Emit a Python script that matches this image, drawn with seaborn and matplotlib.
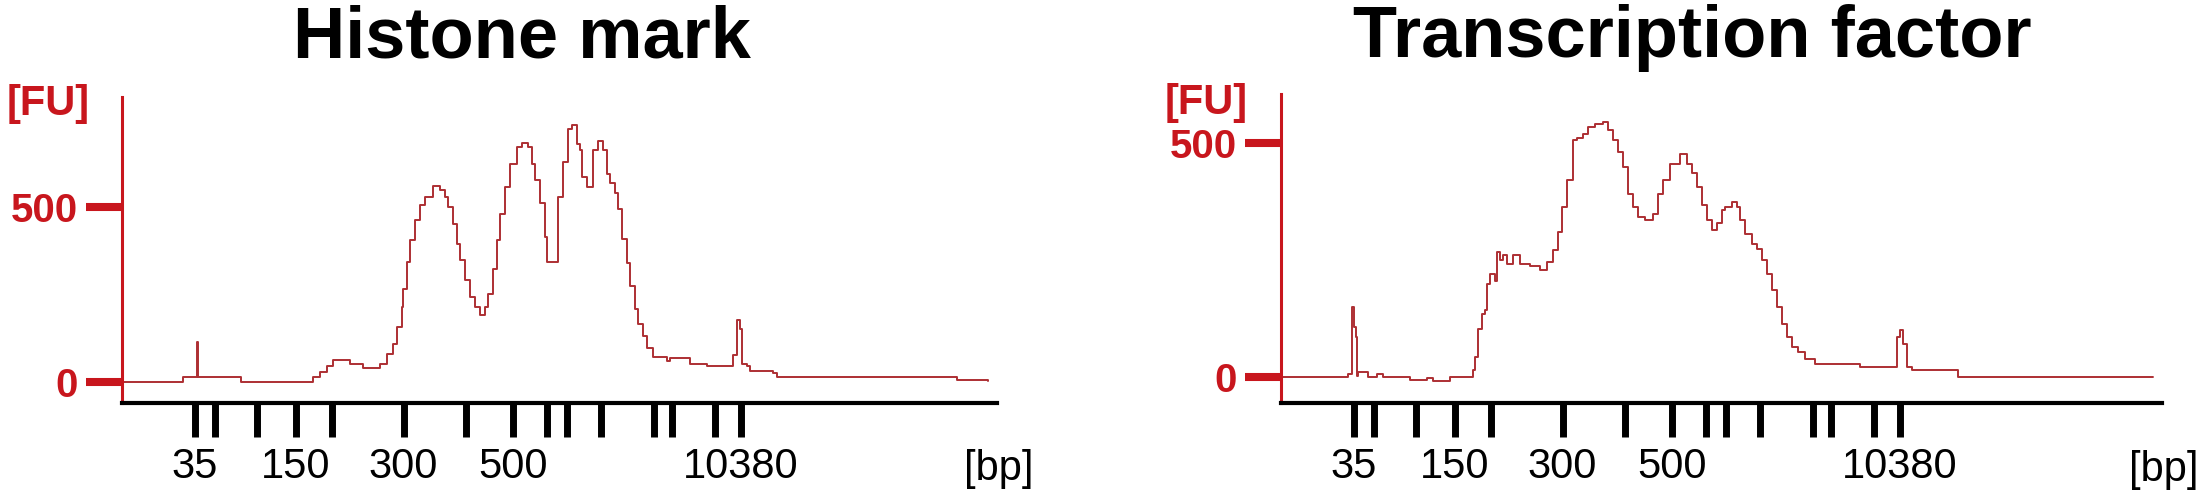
import matplotlib
matplotlib.use("Agg")
import matplotlib.pyplot as plt
import seaborn as sns

# ladder (bp) and its migration time [s]
LADDER_BP = [35, 50, 100, 150, 200, 300, 400, 500, 600, 700, 1000, 2000, 3000, 7000, 10380]
LADDER_TIME = [47.3, 49.3, 53.45, 57.35, 60.95, 68.15, 74.35, 79.1, 82.45, 84.45,
               87.85, 93.2, 95.0, 99.25, 101.85]
LADDER_LABELS = ["35", "", "", "150", "", "300", "", "500", "", "", "", "", "", "", "10380"]

# Histone mark trace
HM_TIME = [40.0, 46.0, 46.1, 47.4, 47.5, 47.6, 51.8, 51.9, 58.6, 59.1, 59.8, 60.5, 61.1,
           62.6, 62.8, 64.1, 65.1, 65.8, 66.5, 67.1, 67.5, 68.0, 68.1, 68.5, 68.8, 69.3,
           69.8, 70.3, 71.1, 71.8, 72.3, 72.6, 73.1, 73.5, 73.8, 74.3, 74.8, 75.3, 75.8,
           76.3, 76.6, 77.1, 77.5, 77.8, 78.3, 78.8, 79.5, 80.0, 80.6, 81.0, 81.3, 81.8,
           82.3, 82.5, 83.0, 83.6, 84.1, 84.6, 85.0, 85.5, 85.8, 86.0, 86.5, 87.1, 87.6,
           88.1, 88.5, 88.8, 89.3, 89.6, 90.0, 90.5, 90.8, 91.3, 91.6, 92.1, 92.5, 93.1,
           94.5, 94.8, 96.5, 96.8, 98.5, 101.0, 101.1, 101.5, 101.8, 102.0, 102.5, 102.8,
           105.1, 105.5, 123.3, 123.5, 126.6]
HM_FU = [0, 0, 14, 14, 114, 14, 14, 0, 0, 14, 28, 47, 64,
         64, 50, 41, 41, 52, 81, 109, 157, 214, 267, 343, 405, 462,
         505, 529, 560, 548, 529, 500, 452, 395, 348, 290, 243, 214, 191,
         214, 252, 324, 405, 481, 557, 624, 671, 683, 671, 624, 576, 510,
         414, 343, 343, 528, 628, 724, 734, 681, 662, 586, 557, 662, 688,
         662, 593, 567, 540, 493, 408, 340, 273, 208, 165, 131, 98, 70,
         60, 69, 69, 52, 46, 46, 78, 177, 152, 50, 45, 30,
         27, 14, 14, 5, 2]

# Transcription factor trace
TF_TIME = [40.0, 46.6, 46.7, 47.1, 47.3, 47.5, 47.6, 47.7, 48.7, 49.6, 50.2, 52.9, 54.6,
           55.2, 56.9, 59.2, 59.4, 59.7, 60.1, 60.4, 60.6, 60.9, 61.4, 61.6, 61.9, 62.2,
           62.6, 63.2, 63.9, 64.9, 65.9, 66.6, 67.2, 67.7, 68.1, 68.6, 69.2, 69.6, 70.2,
           70.7, 71.4, 72.2, 72.7, 73.2, 73.7, 74.2, 74.7, 75.2, 75.7, 76.4, 77.2, 77.7,
           78.2, 78.9, 79.9, 80.6, 81.1, 81.6, 82.1, 82.6, 83.1, 83.6, 84.1, 84.4, 85.1,
           85.6, 85.9, 86.4, 87.1, 87.6, 88.1, 88.6, 89.1, 89.6, 90.1, 90.6, 91.1, 91.7,
           92.4, 93.4, 97.9, 101.6, 101.9, 102.2, 102.6, 103.1, 107.7, 127.2]
TF_FU = [0, 0, 7, 150, 107, 86, 2, 10, 0, 7, 0, -6, -2,
         -9, 0, 15, 43, 103, 135, 142, 199, 220, 206, 267, 249, 260,
         242, 260, 242, 238, 228, 246, 271, 310, 363, 420, 506, 510, 520,
         534, 541, 545, 527, 506, 481, 449, 392, 363, 342, 336, 349, 392,
         420, 456, 477, 456, 435, 406, 367, 335, 314, 328, 356, 363, 374,
         363, 335, 306, 285, 274, 249, 220, 185, 149, 114, 85, 64, 53,
         39, 28, 21, 85, 101, 71, 21, 14, 0, 0]

RED = "#c8161d"
TRACE = "#ad2f33"
W, H = 2208, 498


def style_axis(ax, xlim, ylim):
    ax.set_xlim(*xlim)
    ax.set_ylim(*ylim)
    ax.set(xlabel="", ylabel="")
    for side in ["top", "right"]:
        ax.spines[side].set_visible(False)
    ax.spines["bottom"].set_color("black")
    ax.spines["bottom"].set_linewidth(3)
    ax.spines["left"].set_color(RED)
    ax.spines["left"].set_linewidth(2.2)
    ax.set_xticks(LADDER_TIME)
    ax.set_xticklabels(LADDER_LABELS)
    ax.tick_params(axis="x", bottom=True, length=24.5, width=5, color="black", pad=7,
                   labelsize=30, labelcolor="black", direction="out")
    ax.set_yticks([0, 500])
    ax.set_yticklabels(["0", "500"], fontweight="bold")
    ax.tick_params(axis="y", left=True, length=26, width=5.8, color=RED, pad=6,
                   labelsize=29, labelcolor=RED, direction="out")
    ax.text(0.962, -0.252, "[bp]", transform=ax.transAxes, fontsize=30,
            color="black", ha="left", va="baseline")


sns.set_style("white")
plt.rcParams["font.family"] = ["Liberation Sans", "DejaVu Sans"]

fig = plt.figure(figsize=(W / 100, H / 100), dpi=100)

ax1 = fig.add_axes([122 / W, 95 / H, 875 / W, 306 / H])
sns.lineplot(x=HM_TIME, y=HM_FU, ax=ax1, color=TRACE, lw=1.4,
             drawstyle="steps-post", estimator=None, sort=False)
style_axis(ax1, (40, 127.5), (-60, 814))

ax2 = fig.add_axes([1281 / W, 95 / H, 881 / W, 309 / H])
sns.lineplot(x=TF_TIME, y=TF_FU, ax=ax2, color=TRACE, lw=1.4,
             drawstyle="steps-post", estimator=None, sort=False)
style_axis(ax2, (40, 128.1), (-56, 605))

# axis unit labels and titles
fig.text(90 / W, 1 - 115 / H, "[FU]", color=RED, fontsize=30, fontweight="bold",
         ha="right", va="baseline")
fig.text(1248 / W, 1 - 114 / H, "[FU]", color=RED, fontsize=30, fontweight="bold",
         ha="right", va="baseline")
fig.text(522 / W, 1 - 57 / H, "Histone mark", fontsize=52, fontweight="bold",
         color="black", ha="center", va="baseline")
fig.text(1353 / W, 1 - 57 / H, "Transcription factor", fontsize=52, fontweight="bold",
         color="black", ha="left", va="baseline")

fig.savefig("out.png", dpi=100)
plt.close(fig)
